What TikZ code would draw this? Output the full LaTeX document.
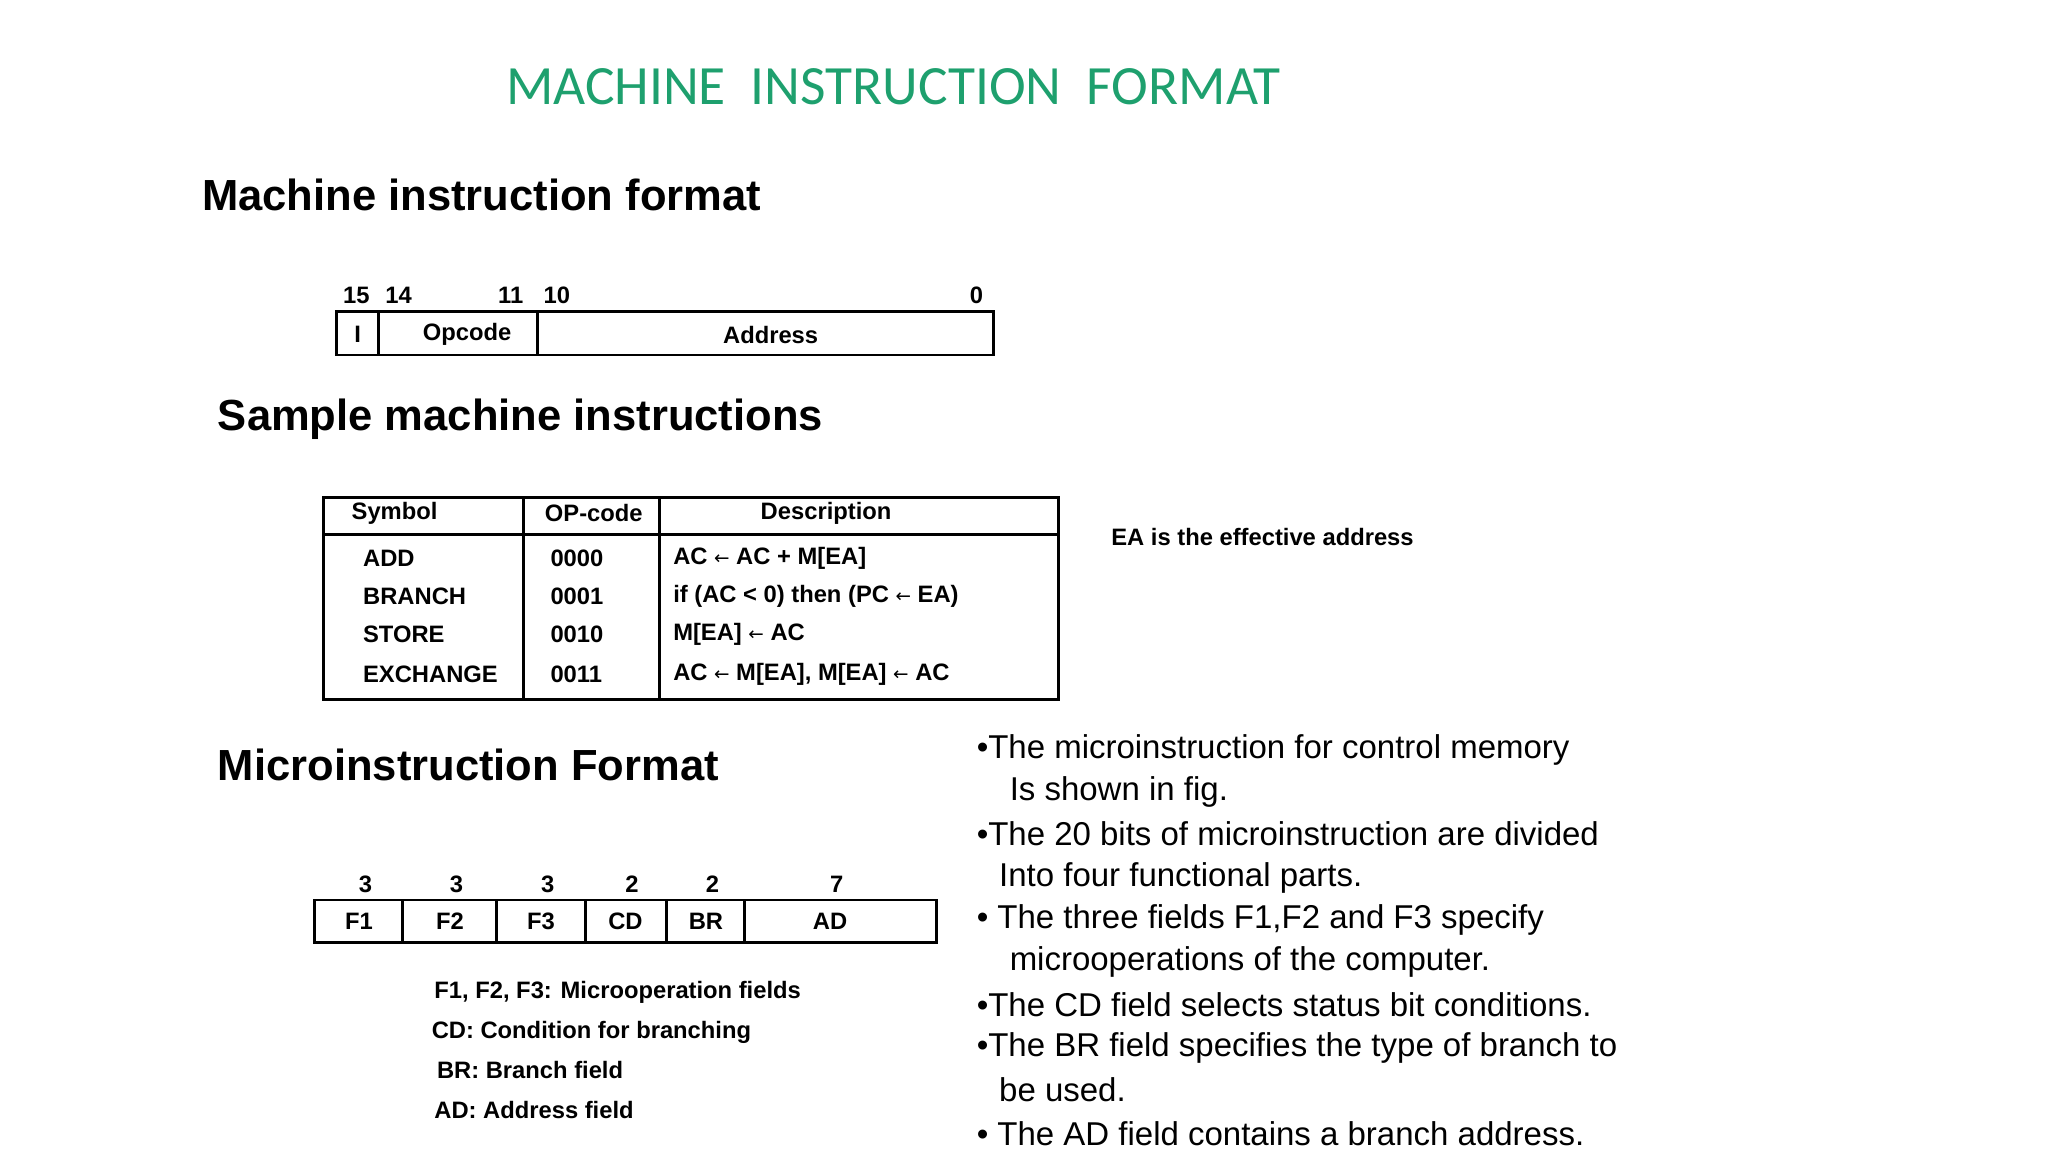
\documentclass[tikz,border=0pt]{standalone}
\usepackage{fontspec}
\setmainfont{Liberation Sans}
\newfontfamily\titlefont{Carlito}
\newfontfamily\arrfont{DejaVu Sans}
\newcommand{\la}{{\arrfont\mdseries\fontsize{14}{14}\selectfont ←}}
\definecolor{tgreen}{RGB}{30,160,110}
\begin{document}
\begin{tikzpicture}[x=1pt,y=-1pt,
  hd/.style={anchor=west,font=\bfseries\fontsize{33}{36}\selectfont,inner sep=0},
  sm/.style={font=\bfseries\fontsize{18}{20}\selectfont,inner sep=0},
  bl/.style={anchor=west,font=\fontsize{25}{28}\selectfont,inner sep=0},
  bx/.style={draw,line width=2.2pt}]
\useasboundingbox (0,0) rectangle (1552,873);
\node[font=\titlefont\fontsize{42}{46}\selectfont,text=tgreen,inner sep=0] (title) at (677,66) {MACHINE\ \ INSTRUCTION\ \ FORMAT};
\node[hd] (h1) at (153,148) {Machine instruction format};
% bit numbers
\foreach \t/\x [count=\i] in {15/270,14/302,11/387,10/422,0/740}
  \node[sm] (b\i) at (\x,224) {\t};
\draw[bx] (255,236) rectangle (753,269);
\draw[bx] (287,236) -- (287,269) (407,236) -- (407,269);
\node[sm] (fi) at (271,253) {I};
\node[sm] (fo) at (354,253) {Opcode};
\node[sm] (fa) at (584,254) {Address};
\node[hd] (h2) at (165,318) {Sample machine instructions};
% table
\draw[bx] (245,377) rectangle (802,530);
\draw[bx] (245,405) -- (802,405);
\draw[bx] (397,377) -- (397,530) (500,377) -- (500,530);
\node[sm] (ts) at (299,389) {Symbol};
\node[sm] (to) at (450,389) {OP-code};
\node[sm] (td) at (626,389) {Description};
\foreach \s/\o/\d/\y [count=\i] in {ADD/0000/{AC \la\ AC + M[EA]}/423,
  BRANCH/0001/{if (AC < 0) then (PC \la\ EA)}/452,
  STORE/0010/{M[EA] \la\ AC}/481,
  EXCHANGE/0011/{AC \la\ M[EA], M[EA] \la\ AC}/511}{
  \node[sm,anchor=west] (s\i) at (275,\y) {\s};
  \node[sm,anchor=west] (o\i) at (417,\y) {\o};
  \node[sm,anchor=west] (d\i) at (510,\y) {\d};}
\node[sm,anchor=west] (ea) at (842,407) {EA is the effective address};
\node[hd] (h3) at (165,580) {Microinstruction Format};
% micro box
\draw[bx] (238,682) rectangle (710,714);
\foreach \x in {305,376,444,505,564} \draw[bx] (\x,682) -- (\x,714);
\foreach \n/\l/\x [count=\i] in {3/F1/272,3/F2/341,3/F3/410,2/CD/474,2/BR/535,7/AD/629}{
  \node[sm] (n\i) at (\x+5,670) {\n};
  \node[sm] (m\i) at (\x,698) {\l};}
\foreach \t/\x/\y [count=\i] in {{F1, F2, F3: Microoperation fields}/329/752,
  {CD: Condition for branching}/327/782,{BR: Branch field}/331/811,{AD: Address field}/329/841}
  \node[sm,anchor=west] (lg\i) at (\x,\y) {\t};
% bullets
\foreach \t/\x/\y [count=\i] in {
  {•The microinstruction for control memory}/740/568,
  {Is shown in fig.}/765/600,
  {•The 20 bits of microinstruction are divided}/740/632,
  {Into four functional parts.}/757/665,
  {• The three fields F1,F2 and F3 specify}/740/697,
  {microoperations of the computer.}/765/729,
  {•The CD field selects status bit conditions.}/740/761,
  {•The BR field specifies the type of branch to}/740/794,
  {be used.}/757/826,
  {• The AD field contains a branch address.}/740/859}
  \node[bl] (t\i) at (\x,\y) {\t};
\end{tikzpicture}
\end{document}
